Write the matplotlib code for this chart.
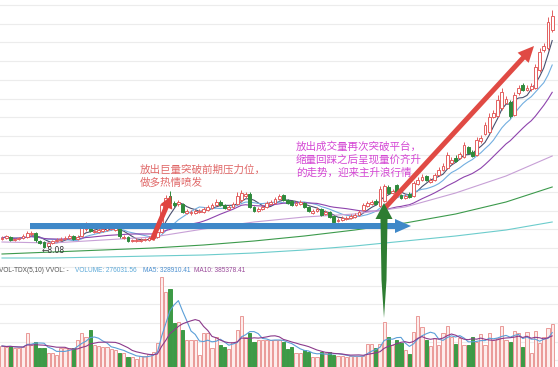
import matplotlib
matplotlib.use('Agg')
import matplotlib.pyplot as plt
import numpy as np
import pandas as pd
from matplotlib.patches import Rectangle, Polygon, FancyArrow

plt.rcParams['font.family'] = ['Noto Sans CJK SC', 'DejaVu Sans']

# ---------------- data ----------------
opens = [8.44, 8.48, 8.52, 8.40, 8.44, 8.48, 8.52, 8.64, 8.68, 8.36,
         8.32, 8.16, 8.28, 8.36, 8.40, 8.44, 8.48, 8.56, 8.44, 8.56,
         8.84, 8.96, 8.72, 8.72, 8.76, 8.80, 8.84, 8.80, 8.84, 8.48,
         8.52, 8.36, 8.36, 8.36, 8.40, 8.40, 8.48, 8.52, 8.72, 9.76,
         10.16, 9.88, 9.84, 9.84, 9.48, 9.48, 9.48, 9.52, 9.52, 9.60,
         9.68, 9.80, 9.92, 9.80, 9.64, 9.72, 9.84, 10.00, 10.16, 10.24,
         9.72, 9.56, 9.64, 9.72, 9.84, 9.88, 10.04, 10.20, 10.00, 9.96,
         9.80, 9.84, 9.88, 9.72, 9.48, 9.56, 9.64, 9.44, 9.52, 9.36,
         9.16, 9.20, 9.24, 9.28, 9.32, 9.40, 9.60, 9.76, 9.84, 9.96,
         9.76, 9.96, 10.52, 10.28, 10.60, 10.20, 10.08, 10.24, 10.16, 10.64,
         10.80, 10.96, 10.72, 10.80, 11.00, 11.20, 11.28, 11.48, 11.68, 11.68,
         11.72, 12.12, 11.92, 11.80, 12.36, 12.64, 12.72, 13.32, 13.36, 13.68,
         13.88, 13.92, 13.40, 14.28, 14.60, 14.40, 14.44, 14.48, 15.20, 16.00,
         16.08, 16.80]
closes = [8.48, 8.56, 8.40, 8.44, 8.48, 8.56, 8.68, 8.68, 8.40, 8.28,
          8.12, 8.28, 8.36, 8.40, 8.44, 8.48, 8.56, 8.44, 8.52, 8.88,
          9.04, 8.76, 8.76, 8.80, 8.84, 8.88, 8.92, 8.88, 8.56, 8.52,
          8.36, 8.40, 8.40, 8.40, 8.44, 8.48, 8.56, 8.72, 9.80, 10.08,
          9.88, 9.80, 9.92, 9.52, 9.56, 9.52, 9.56, 9.56, 9.64, 9.72,
          9.80, 9.92, 9.80, 9.68, 9.72, 9.84, 10.16, 10.28, 10.24, 9.72,
          9.56, 9.64, 9.72, 9.88, 9.92, 10.04, 10.16, 10.00, 9.88, 9.80,
          9.88, 9.92, 9.72, 9.56, 9.56, 9.64, 9.40, 9.52, 9.32, 9.12,
          9.20, 9.28, 9.28, 9.36, 9.40, 9.52, 9.80, 9.88, 9.92, 9.84,
          10.44, 10.56, 10.28, 10.36, 10.32, 10.08, 10.16, 10.12, 10.68, 10.80,
          10.92, 10.80, 10.80, 11.00, 11.20, 11.36, 11.80, 11.60, 11.56, 11.84,
          12.20, 11.88, 11.76, 12.40, 12.48, 13.00, 13.32, 13.48, 14.00, 14.32,
          14.04, 13.36, 14.20, 14.48, 14.40, 14.48, 14.56, 15.32, 15.92, 16.16,
          17.12, 17.36]
highs = [8.56, 8.60, 8.56, 8.48, 8.52, 8.64, 8.76, 8.76, 8.72, 8.40,
         8.36, 8.32, 8.40, 8.48, 8.52, 8.56, 8.64, 8.60, 8.60, 8.96,
         9.12, 9.04, 8.84, 8.88, 8.92, 8.96, 9.00, 8.96, 8.88, 8.60,
         8.56, 8.44, 8.48, 8.48, 8.48, 8.56, 8.64, 8.80, 9.88, 10.20,
         10.36, 9.96, 10.00, 9.88, 9.64, 9.60, 9.64, 9.64, 9.72, 9.80,
         9.88, 10.04, 10.00, 9.84, 9.80, 9.92, 10.32, 10.40, 10.32, 10.32,
         9.76, 9.72, 9.80, 9.96, 10.00, 10.12, 10.24, 10.24, 10.04, 10.00,
         9.96, 10.00, 9.92, 9.76, 9.64, 9.72, 9.68, 9.60, 9.56, 9.40,
         9.28, 9.36, 9.36, 9.44, 9.48, 9.60, 9.88, 9.96, 10.00, 10.04,
         10.56, 10.64, 10.60, 10.44, 10.64, 10.24, 10.24, 10.32, 10.76, 10.92,
         11.04, 11.00, 10.88, 11.08, 11.32, 11.48, 11.92, 11.72, 11.80, 11.92,
         12.32, 12.16, 12.00, 12.52, 12.60, 13.12, 13.48, 13.60, 14.20, 14.48,
         14.16, 14.00, 14.32, 14.60, 14.68, 14.60, 14.68, 15.44, 16.08, 16.28,
         17.32, 17.60]
lows = [8.40, 8.44, 8.36, 8.36, 8.40, 8.44, 8.48, 8.56, 8.32, 8.24,
        8.08, 8.12, 8.24, 8.32, 8.36, 8.40, 8.44, 8.40, 8.40, 8.52,
        8.76, 8.72, 8.68, 8.68, 8.72, 8.76, 8.80, 8.76, 8.48, 8.44,
        8.32, 8.32, 8.32, 8.32, 8.36, 8.36, 8.44, 8.48, 8.68, 9.68,
        9.80, 9.72, 9.76, 9.48, 9.44, 9.40, 9.44, 9.48, 9.48, 9.56,
        9.64, 9.76, 9.76, 9.64, 9.60, 9.68, 9.80, 9.92, 10.08, 9.68,
        9.52, 9.52, 9.60, 9.68, 9.80, 9.84, 10.00, 9.96, 9.84, 9.76,
        9.76, 9.80, 9.68, 9.52, 9.44, 9.52, 9.36, 9.40, 9.28, 9.08,
        9.12, 9.16, 9.20, 9.24, 9.28, 9.36, 9.56, 9.72, 9.80, 9.80,
        9.72, 9.92, 10.24, 10.24, 10.28, 10.04, 10.04, 10.08, 10.12, 10.60,
        10.76, 10.76, 10.68, 10.76, 10.96, 11.16, 11.24, 11.44, 11.52, 11.64,
        11.68, 11.84, 11.72, 11.76, 12.28, 12.60, 12.68, 13.28, 13.32, 13.60,
        13.84, 13.28, 13.36, 14.20, 14.36, 14.36, 14.36, 14.44, 15.12, 15.92,
        16.00, 16.72]
volume_10k = [21, 20, 21, 19, 19, 20, 34, 22, 25, 19,
              19, 14, 14, 12, 19, 19, 19, 19, 27, 34,
              30, 37, 22, 21, 20, 20, 18, 17, 14, 14,
              10, 10, 8, 11, 11, 13, 15, 24, 90, 75,
              78, 44, 45, 37, 27, 27, 27, 12, 34, 34,
              19, 30, 22, 20, 18, 25, 37, 51, 30, 34,
              25, 27, 27, 27, 27, 27, 27, 25, 18, 20,
              14, 14, 17, 15, 10, 10, 15, 14, 15, 12,
              11, 11, 10, 11, 11, 11, 11, 23, 23, 19,
              23, 45, 30, 22, 27, 24, 17, 13, 35, 51,
              40, 27, 21, 29, 22, 34, 41, 30, 23, 29,
              22, 22, 30, 25, 33, 22, 34, 27, 29, 41,
              27, 25, 36, 34, 20, 35, 14, 36, 24, 30,
              39, 43]

# long moving averages at sample bars
long_ma_idx = [0, 12, 24, 36, 48, 60, 72, 84, 96, 108, 120, 131]
ma60_vals = [8.32, 8.28, 8.40, 8.52, 8.84, 9.12, 9.32, 9.44, 9.72, 10.28, 10.96, 11.76]
ma120_vals = [7.84, 7.92, 8.00, 8.08, 8.20, 8.36, 8.56, 8.80, 9.08, 9.44, 9.92, 10.52]
ma250_vals = [7.68, 7.68, 7.72, 7.76, 7.80, 7.88, 8.00, 8.16, 8.36, 8.56, 8.80, 9.12]

vol_header = ["VOL-TDX(5,10) VVOL: -", "VOLUME: 276031.56", "MA5: 328910.41", "MA10: 385378.41"]
note1 = ["放出巨量突破前期压力位，", "做多热情喷发"]
note2 = ["放出成交量再次突破平台，", "缩量回踩之后呈现量价齐升", "的走势，迎来主升浪行情"]
low_label = "8.08"

# ---------------- figure ----------------
W, H = 558, 367
fig = plt.figure(figsize=(W / 100, H / 100), dpi=100)
fig.patch.set_facecolor('white')

# background grid (pixel coordinates)
bg = fig.add_axes([0, 0, 1, 1], zorder=0)
bg.set_xlim(0, W); bg.set_ylim(H, 0); bg.axis('off')
for gy in np.arange(5, H, 18.7):
    bg.axhline(gy, color='#ececec', lw=0.8)

n = len(closes)
idx = np.arange(n)
xl = (-2 / 4.2, (W - 2) / 4.2)

red = '#e36060'
green = '#2f8a3c'

# price panel
ax = fig.add_axes([0, 1 - 262 / H, 1, 262 / H], zorder=1)
ax.set_facecolor('none')
ax.set_xlim(*xl)
ax.set_ylim(18 - 262 / 25, 18)
ax.axis('off')

s = pd.Series(closes)
ax.plot(idx, s.rolling(5, min_periods=1).mean(), color='#4a4f6e', lw=0.8, zorder=2)
ax.plot(idx, s.rolling(10, min_periods=1).mean(), color='#72aee0', lw=0.8, zorder=2)
ax.plot(idx, s.rolling(20, min_periods=1).mean(), color='#8e44ad', lw=0.8, zorder=2)
ax.plot(long_ma_idx, ma60_vals, color='#c7a0d6', lw=0.8, zorder=2)
ax.plot(long_ma_idx, ma120_vals, color='#3c9a4c', lw=0.8, zorder=2)
ax.plot(long_ma_idx, ma250_vals, color='#6ccccc', lw=0.8, zorder=2)

w = 0.62
for i in range(n):
    o, c, h, l = opens[i], closes[i], highs[i], lows[i]
    up = c >= o
    col = red if up else green
    ax.vlines(i, l, h, color=col, lw=0.7, zorder=3)
    ax.add_patch(Rectangle((i - w / 2, min(o, c)), w, max(abs(c - o), 0.02),
                           facecolor='white' if up else col, edgecolor=col,
                           lw=0.7, zorder=4))

# volume panel
axv = fig.add_axes([0, 0, 1, 105 / H], zorder=1)
axv.set_facecolor('none')
axv.set_xlim(*xl)
axv.set_ylim(0, 105)
axv.axis('off')
for i in range(n):
    up = closes[i] >= opens[i]
    if up:
        axv.add_patch(Rectangle((i - 0.36, 0), 0.72, volume_10k[i], facecolor='#fdeceb',
                                edgecolor='#ea9a98', lw=0.7, zorder=2))
    else:
        axv.add_patch(Rectangle((i - 0.36, 0), 0.72, volume_10k[i], facecolor='#3d9a46',
                                edgecolor='#3d9a46', lw=0.7, zorder=2))
vs = pd.Series(volume_10k)
axv.plot(idx, vs.rolling(5, min_periods=1).mean(), color='#5b9fd8', lw=0.8, zorder=3)
axv.plot(idx, vs.rolling(10, min_periods=1).mean(), color='#8b3a8b', lw=0.8, zorder=3)

# overlay (pixel coordinates) for annotations
ov = fig.add_axes([0, 0, 1, 1], zorder=5)
ov.set_facecolor('none')
ov.set_xlim(0, W); ov.set_ylim(H, 0); ov.axis('off')

hx = [-1, 75, 143, 194]
hc = ['#555555', '#5aa8d8', '#4a8fd0', '#9a4a9a']
for t, x, c in zip(vol_header, hx, hc):
    ov.text(x, 270, t, fontsize=4.7, color=c, va='center', ha='left', family='Liberation Sans')

ov.text(42, 250.5, '←' + low_label, fontsize=5.5, color='#333333', va='center', ha='left',
        family='DejaVu Sans')

for k, t in enumerate(note1):
    ov.text(140, 170 + 13 * k, t, fontsize=7.6, color='#e06868', va='center', ha='left')
for k, t in enumerate(note2):
    ov.text(296, 147 + 13 * k, t, fontsize=7.6, color='#d448d4', va='center', ha='left')

# blue horizontal arrow
ov.add_patch(FancyArrow(30, 226, 381, 0, width=6, head_width=14, head_length=16,
                        length_includes_head=True, color='#3f88c8', lw=0))
# small red arrow
ov.add_patch(FancyArrow(152, 240, 19, -44, width=5, head_width=13, head_length=12,
                        length_includes_head=True, color='#e04440', lw=0))
# big red arrow
ov.add_patch(FancyArrow(383, 210, 151, -164, width=5, head_width=15, head_length=16,
                        length_includes_head=True, color='#e04a44', lw=0))
# green vertical arrow
ov.add_patch(Polygon([(384, 203), (392.5, 219), (387.5, 219), (386.5, 280), (384, 318),
                      (381.5, 280), (380.5, 219), (375.5, 219)], closed=True,
                     facecolor='#2e7d32', edgecolor='none'))

fig.savefig('out.png', dpi=100)
